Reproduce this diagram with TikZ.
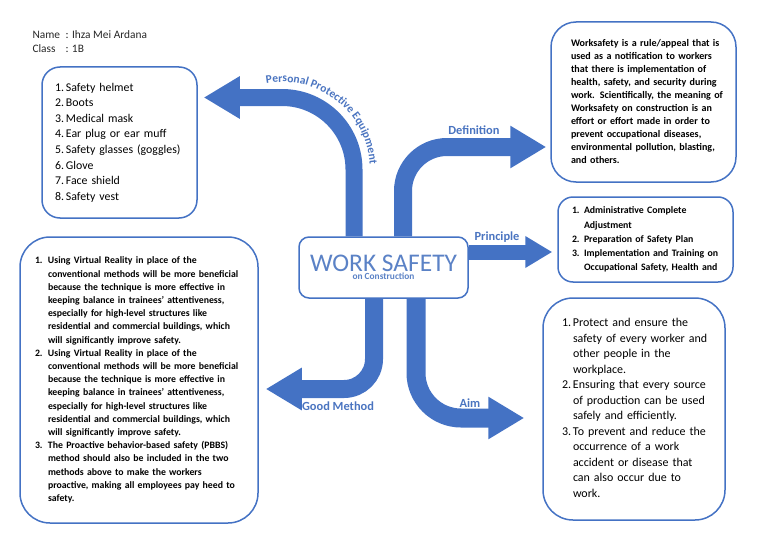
\documentclass[tikz,border=0pt]{standalone}
\usepackage{fontspec}
\setmainfont{Carlito}
\usetikzlibrary{arrows.meta,positioning,decorations.text}
\definecolor{wsblue}{HTML}{4472C4}
\definecolor{wslabel}{HTML}{4A74C0}
\definecolor{wstitle}{HTML}{5B82C6}
\tikzset{
  bigarrow/.style={-{Triangle[length=36pt,width=40pt]}, line width=17pt, draw=wsblue},
  infobox/.style={draw=wsblue, line width=1.5pt, fill=white, align=left, inner ysep=0pt},
  armlabel/.style={font=\fontsize{\labelsize}{14}\selectfont\bfseries, text=wslabel, inner sep=1pt}
}
% font size that gives a sample line the width it has in the picture
\newlength{\fitlen}
\newcommand{\setfit}[3]{\settowidth{\fitlen}{\fontsize{10}{12}\selectfont #2}\pgfmathsetmacro#1{10*#3/\fitlen}}

\begin{document}
\setfit{\ppesize}{5.\,Safety glasses (goggles)}{123}
\setfit{\aimsize}{safety of every worker and}{129}
\setfit{\defsize}{\bfseries that there is implementation of}{131}
\setfit{\prinsize}{\bfseries Implementation and Training on}{131}
\setfit{\gmsize}{\bfseries conventional methods will be more beneficial}{185}
\setfit{\namesize}{Ihza Mei Ardana}{75}
\setfit{\labelsize}{\bfseries Good Method}{72}
\setfit{\titlesize}{WORK SAFETY}{147}
\setfit{\subsize}{\bfseries on Construction}{62}
\begin{tikzpicture}[x=1pt, y=-1pt]
    \useasboundingbox (0,0) rectangle (768,543);

    % header
    \node[anchor=west, align=left, text=black!85, font=\fontsize{\namesize}{14}\selectfont] (name) at (29,43)
      {\begin{tabular}{@{}p{33pt}@{}l@{}}Name & : Ihza Mei Ardana\\Class & : 1B\end{tabular}};

    % centre
    \node[infobox, align=center, rounded corners=10pt, minimum width=169pt, minimum height=61pt, text=wstitle,
          font=\fontsize{\subsize}{8}\selectfont\bfseries] (ws) at (383.5,267.5)
      {{\fontsize{\titlesize}{25}\selectfont\mdseries WORK SAFETY}\\on Construction};

    % boxes
    \node[infobox, font=\fontsize{\ppesize}{15.6}\selectfont, rounded corners=18pt, minimum width=155pt, minimum height=151pt, text width=129pt, inner xsep=13pt] (ppe) at (119.5,142.5)
      {1.\,Safety helmet\\2.\,Boots\\3.\,Medical mask\\4.\,Ear plug or ear muff\\5.\,Safety glasses (goggles)\\6.\,Glove\\7.\,Face shield\\8.\,Safety vest};
    \node[infobox, font=\fontsize{\defsize}{13}\selectfont\bfseries, rounded corners=25pt, minimum width=185pt, minimum height=160pt, text width=145pt, inner xsep=20pt] (def) at (643.5,102)
      {\begin{tabular}{@{}l@{}}
        Worksafety is a rule/appeal that is\\used as a notification to workers\\that there is implementation of\\health, safety, and security during\\work. Scientifically, the meaning of\\Worksafety on construction is an\\effort or effort made in order to\\prevent occupational diseases,\\environmental pollution, blasting,\\and others.
      \end{tabular}};
    \node[infobox, font=\fontsize{\prinsize}{14.2}\selectfont\bfseries, rounded corners=15pt, minimum width=175pt, minimum height=85pt, text width=147pt, inner xsep=14pt] (prin) at (645.5,239.5)
      {\begin{tabular}{@{}p{12pt}@{}l@{}}
        1. & Administrative Complete\\ & Adjustment\\
        2. & Preparation of Safety Plan\\
        3. & Implementation and Training on\\ & Occupational Safety, Health and
      \end{tabular}};
    \node[infobox, font=\fontsize{\gmsize}{13.2}\selectfont\bfseries, rounded corners=30pt, minimum width=238pt, minimum height=286pt, text width=208pt, inner xsep=15pt] (gm) at (139,380)
      {\begin{tabular}{@{}p{13pt}@{}l@{}}
        1. & Using Virtual Reality in place of the\\ & conventional methods will be more beneficial\\ & because the technique is more effective in\\ & keeping balance in trainees’ attentiveness,\\ & especially for high-level structures like\\ & residential and commercial buildings, which\\ & will significantly improve safety.\\
        2. & Using Virtual Reality in place of the\\ & conventional methods will be more beneficial\\ & because the technique is more effective in\\ & keeping balance in trainees’ attentiveness,\\ & especially for high-level structures like\\ & residential and commercial buildings, which\\ & will significantly improve safety.\\
        3. & The Proactive behavior-based safety (PBBS)\\ & method should also be included in the two\\ & methods above to make the workers\\ & proactive, making all employees pay heed to\\ & safety.
      \end{tabular}};
    \node[infobox, font=\fontsize{\aimsize}{15.5}\selectfont, rounded corners=30pt, minimum width=182pt, minimum height=222pt, text width=144pt, inner xsep=19pt] (aim) at (634,409)
      {\begin{tabular}{@{}p{11pt}@{}l@{}}
        1. & Protect and ensure the\\ & safety of every worker and\\ & other people in the\\ & workplace.\\
        2. & Ensuring that every source\\ & of production can be used\\ & safely and efficiently.\\
        3. & To prevent and reduce the\\ & occurrence of a work\\ & accident or disease that\\ & can also occur due to\\ & work.
      \end{tabular}};

    % arms
    \draw[bigarrow, rounded corners=72pt, shorten >=6pt] ([xshift=-29.5pt]ws.north) |- ([yshift=45pt]ppe.east);
    \draw[bigarrow, line width=18pt, rounded corners=44pt, shorten >=4pt] ([xshift=19.5pt]ws.north) |- ([yshift=-45pt]def.west);
    \draw[bigarrow, line width=15pt, -{Triangle[length=27pt,width=30pt]}, shorten >=5pt] ([yshift=15.5pt]ws.east) -- ([yshift=15.5pt]ws.east -| prin.west);
    \draw[bigarrow, line width=18pt, rounded corners=30pt, shorten >=7pt] ([xshift=-9.5pt]ws.south) |- ([yshift=-9pt]gm.east);
    \draw[bigarrow, line width=19pt, rounded corners=45pt, shorten >=18pt] ([xshift=32.5pt]ws.south) |- ([yshift=-9pt]aim.west);

    % arm labels
    \node[armlabel] (deflabel) at (474,130) {Definition};
    \node[armlabel] (prinlabel) at (497,237) {Principle};
    \node[armlabel] (gmlabel) at (338,406) {Good Method};
    \node[armlabel] (aimlabel) at (470,403) {Aim};
    \path[decorate, decoration={text along path, text align=center,
        text={|\fontsize{11.5}{13}\selectfont\bfseries\color{wslabel}|Personal Protective Equipment}}]
      (282,170) ++(-105:88) arc[start angle=-105, end angle=1, radius=88];
\end{tikzpicture}
\end{document}
